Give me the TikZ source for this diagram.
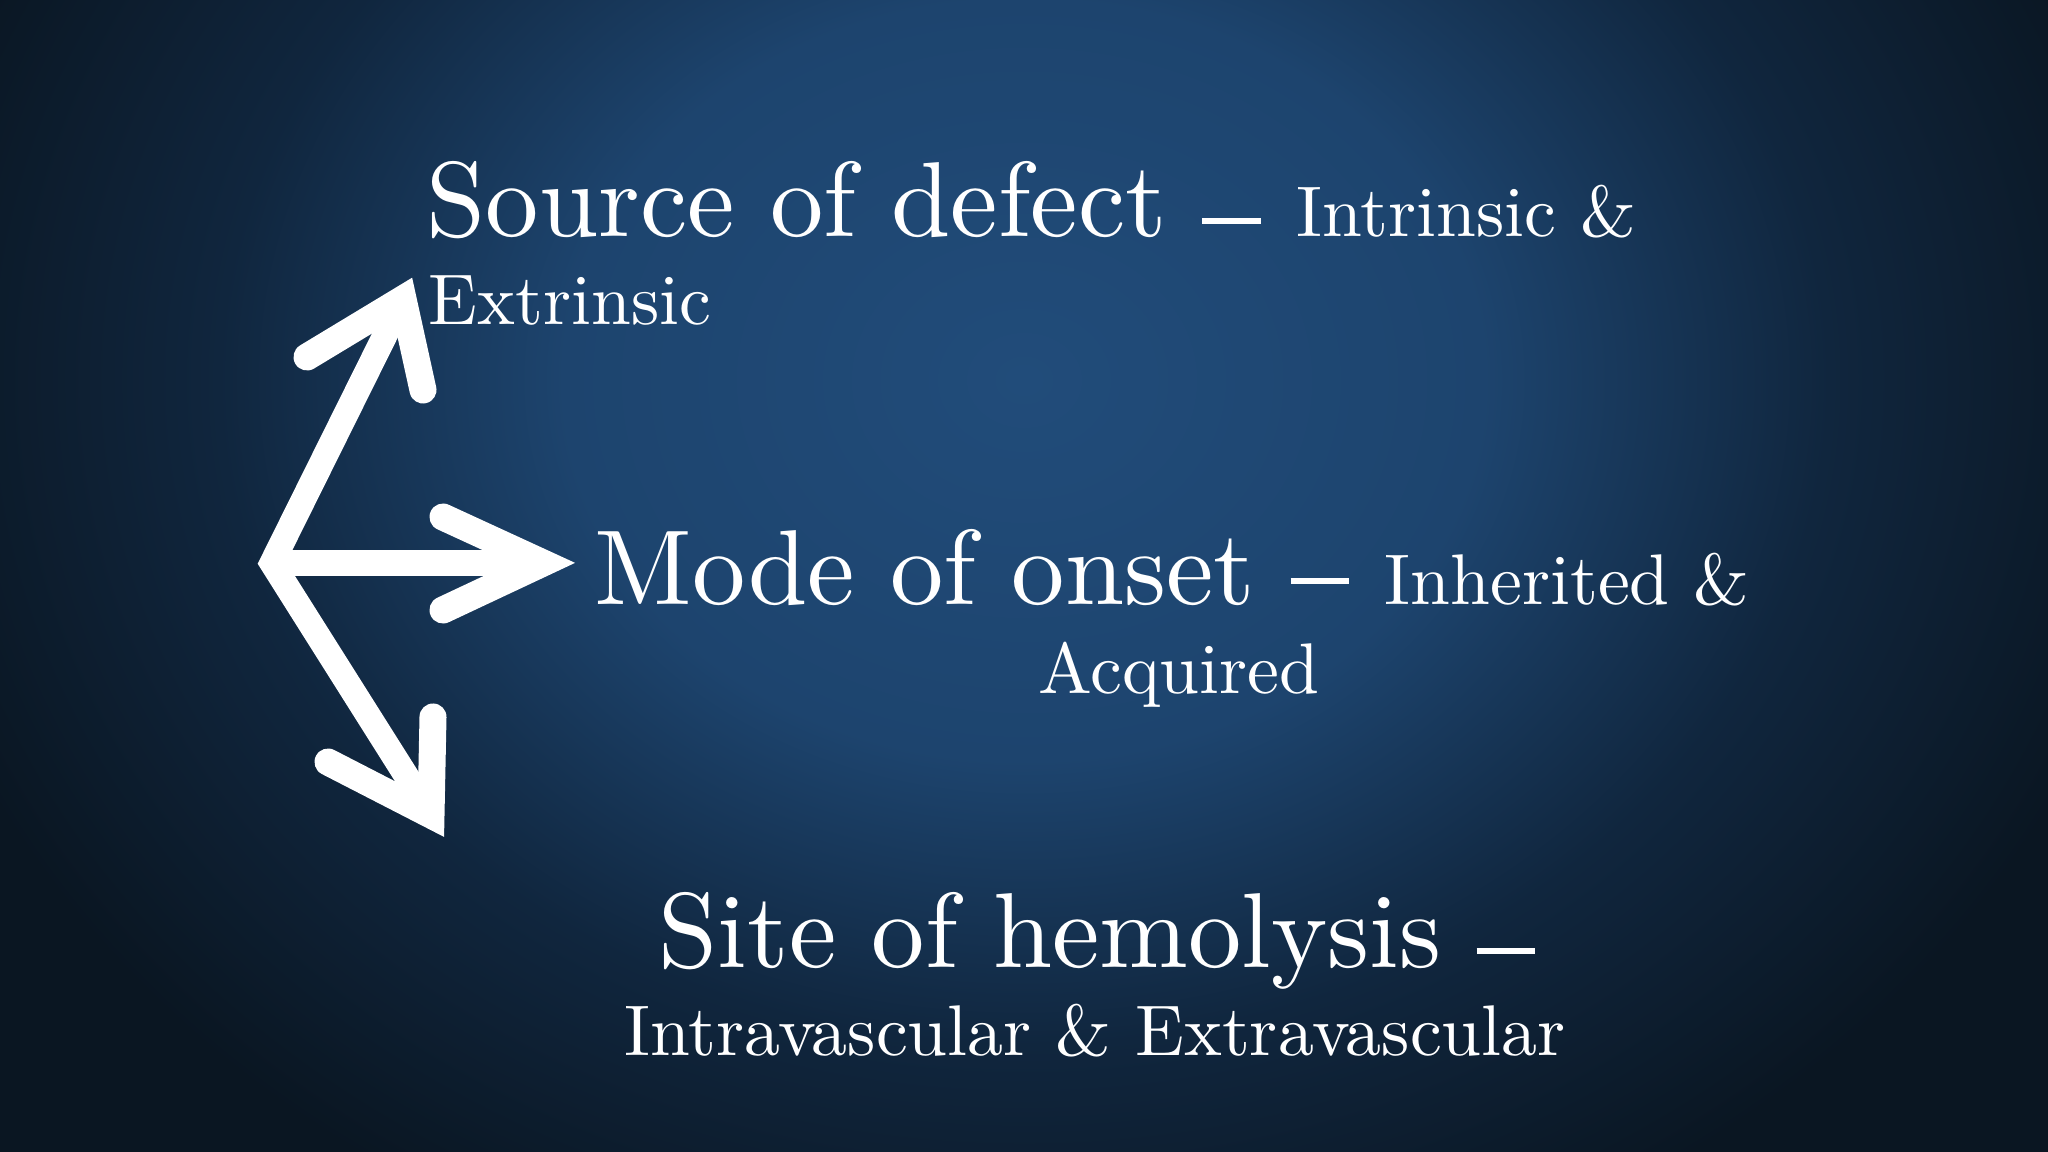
\documentclass[tikz,border=0pt]{standalone}
\usepackage{fontspec}
\setmainfont{lmroman10-regular.otf}

\definecolor{glowin}{RGB}{33,76,122}
\definecolor{glowmid}{RGB}{29,68,110}
\definecolor{glowdark}{RGB}{16,38,62}
\definecolor{glowout}{RGB}{10,22,34}
\pgfdeclareradialshading{slideglow}{\pgfpoint{0bp}{0bp}}{%
  color(0bp)=(glowin); color(10bp)=(glowmid); color(17.5bp)=(glowdark);
  color(25bp)=(glowout); color(50bp)=(glowout)}

\newcommand\hdsize{\fontsize{30.3}{36}\selectfont}
\newcommand\sbsize{\fontsize{20.4}{25}\selectfont}
% thick dash, raised by #1
\newcommand\bardash[1]{\rule[#1]{0.55em}{0.055em}}

\begin{document}
\begin{tikzpicture}[x=0.01cm,y=-0.01cm,
  shaft/.style={draw=white,line width=0.25cm,line join=miter},
  barb/.style={draw=white,line width=0.27cm,line join=miter,line cap=round},
  every node/.style={text=white,inner sep=0pt}]
  % background
  \useasboundingbox (0,0) rectangle (2048,1152);
  \fill[glowout] (0,0) rectangle (2048,1152);
  \begin{scope}
    \clip (0,0) rectangle (2048,1152);
    \shade[shading=slideglow] (-126,-570) rectangle (2174,1330);
  \end{scope}

  % arrows
  \coordinate (hub) at (272,563);
  \coordinate (up) at (403,299);
  \coordinate (up l) at (307,357);
  \coordinate (up r) at (423,390);
  \coordinate (mid) at (543,563);
  \coordinate (mid l) at (443,517);
  \coordinate (mid r) at (443,610);
  \coordinate (down) at (431,815);
  \coordinate (down l) at (328,762);
  \coordinate (down r) at (433,717);
  \draw[shaft] (up) -- (hub) -- (down);
  \draw[shaft] (hub) -- (mid);
  \foreach \a in {up,mid,down}
    \draw[barb] (\a\space l) -- (\a) -- (\a\space r);

  % texts
  \node[anchor=base west] (source) at (426,237)
    {\hdsize Source of defect \bardash{0.12em} \sbsize Intrinsic \&};
  \node[anchor=base west] (source2) at (428,325) {\sbsize Extrinsic};
  \node[anchor=base] (mode) at (1172,604)
    {\hdsize Mode of onset \bardash{0.19em} \sbsize Inherited \&};
  \node[anchor=base] (mode2) at (1179,693) {\sbsize Acquired};
  \node[anchor=base] (site) at (1097,967)
    {\hdsize Site of hemolysis \bardash{0.12em}};
  \node[anchor=base] (site2) at (1095,1055) {\sbsize Intravascular \& Extravascular};
\end{tikzpicture}
\end{document}
